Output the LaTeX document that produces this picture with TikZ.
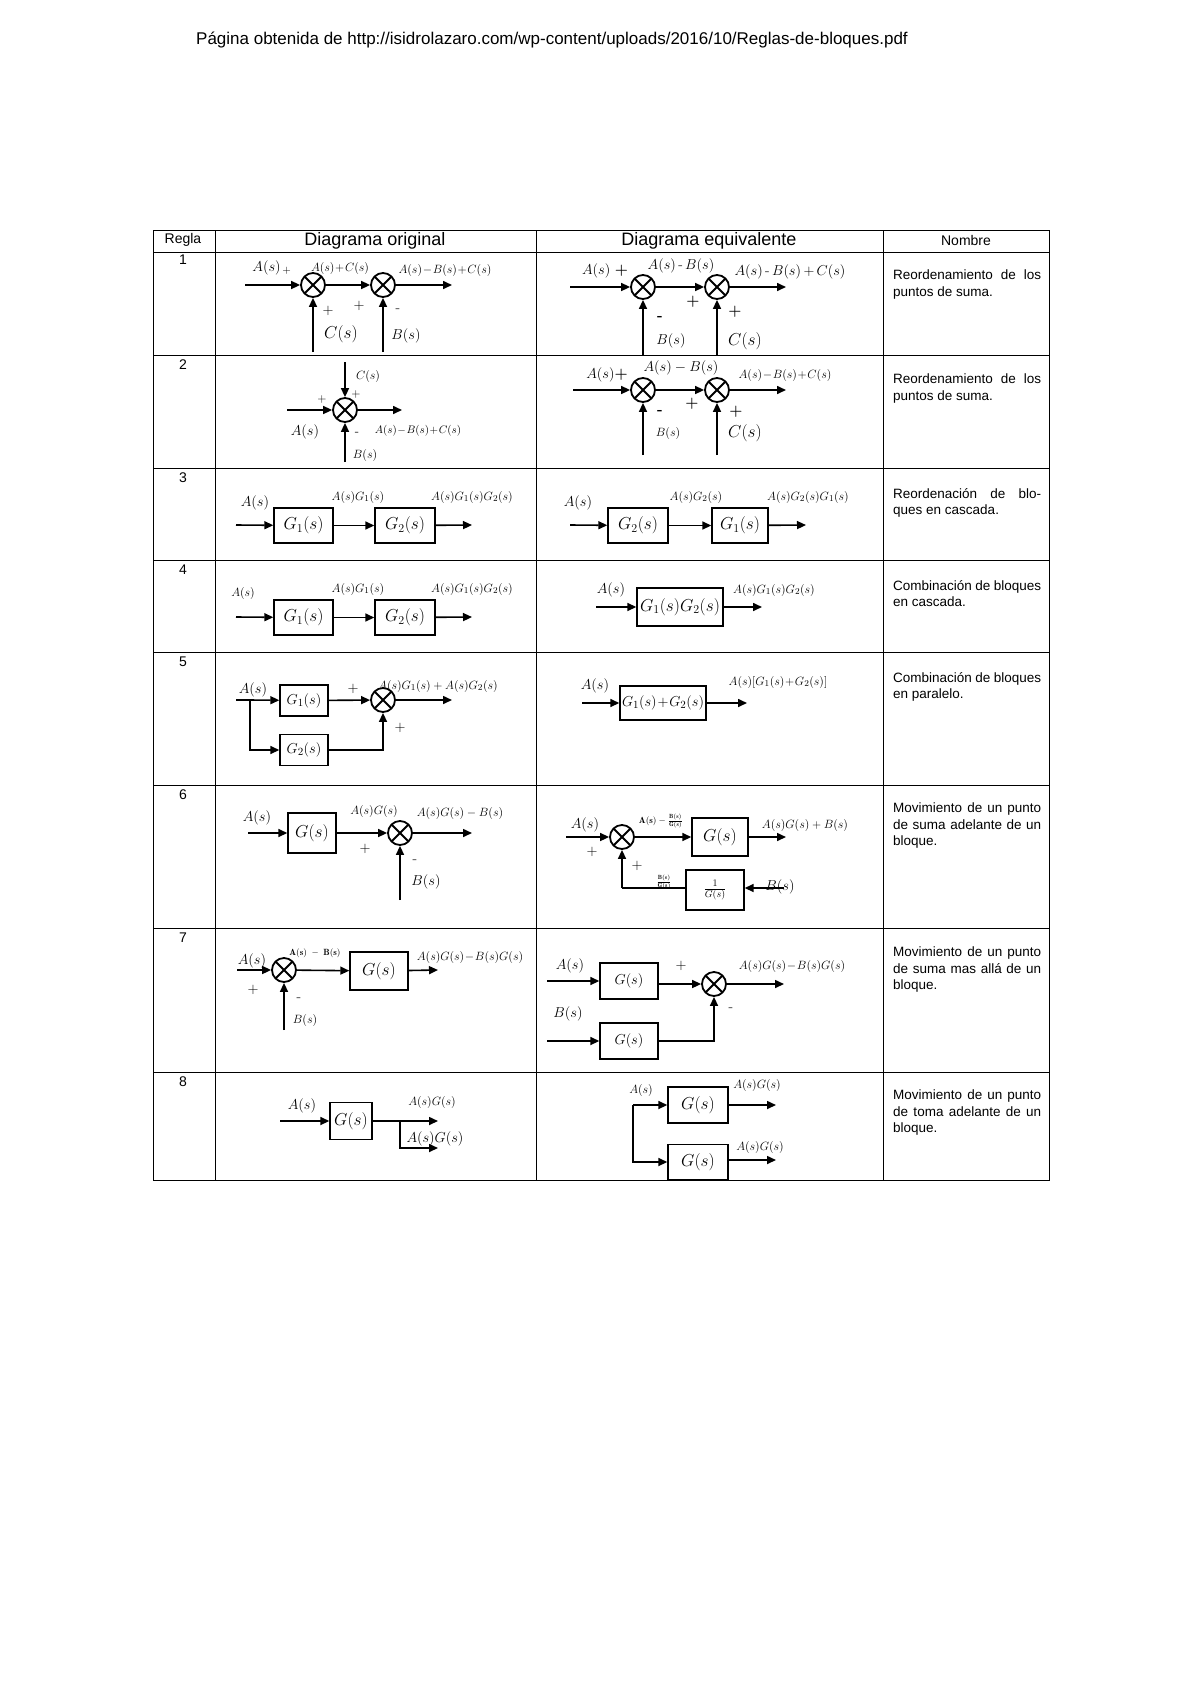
\documentclass[tikz,border=0pt]{standalone}
\usepackage{fontspec}
\setsansfont{Liberation Sans}
\usetikzlibrary{arrows.meta}
\begin{document}
\begin{tikzpicture}[x=1pt,y=-1pt,
  sig/.style={line width=1.6pt,-{Triangle[length=9pt,width=8pt]}},
  ln/.style={line width=1.6pt},
  sum/.style={circle,draw,line width=1.8pt,minimum size=24pt,inner sep=0pt,
    path picture={\draw[line width=1.8pt] (path picture bounding box.north west)--(path picture bounding box.south east) (path picture bounding box.north east)--(path picture bounding box.south west);}},
  blk/.style={draw,line width=1.4pt,rectangle,inner sep=0pt,font=\fontsize{18}{18}\selectfont},
  lb/.style={inner sep=0pt,font=\fontsize{15}{15}\selectfont},
  big/.style={inner sep=0pt,font=\fontsize{19}{19}\selectfont},
  sl/.style={inner sep=0pt,font=\fontsize{13}{13}\selectfont},
  ti/.style={inner sep=0pt,font=\fontsize{9}{9}\selectfont},
  nm/.style={anchor=north west,text width=148pt,align=justify,font=\sffamily\fontsize{13.5}{16.5}\selectfont,inner sep=0pt},
  tl/.style={line width=1pt}]
\useasboundingbox (0,0) rectangle (1200,1698);
\fill[white] (0,0) rectangle (1200,1698);
\node[font=\sffamily\fontsize{17}{20}\selectfont] (hdr) at (552,40) {Página obtenida de http://isidrolazaro.com/wp-content/uploads/2016/10/Reglas-de-bloques.pdf};
% table
\draw[tl] (153,230) rectangle (1049,1180);
\foreach \y in {252,355,468,560,652,785,928,1072} \draw[tl] (153,\y)--(1049,\y);
\foreach \x in {215,536,883} \draw[tl] (\x,230)--(\x,1180);
\node[font=\sffamily\fontsize{14}{14}\selectfont] (h1) at (183,240) {Regla};
\node[font=\sffamily\fontsize{18}{18}\selectfont] (h2) at (375,241) {Diagrama original};
\node[font=\sffamily\fontsize{18}{18}\selectfont] (h3) at (709,241) {Diagrama equivalente};
\node[font=\sffamily\fontsize{14}{14}\selectfont] (h4) at (966,240) {Nombre};
\foreach \n/\y in {1/260,2/365,3/478,4/570,5/662,6/795,7/938,8/1082} \node[font=\sffamily\fontsize{14}{14}\selectfont] at (183,\y) {\n};
\node[nm] (n1) at (893,270) {Reordenamiento de los puntos de suma.};
\node[nm] (n2) at (893,374) {Reordenamiento de los puntos de suma.};
\node[nm] (n3) at (893,488) {Reordenación de bloques en cascada.};
\node[nm] (n4) at (893,580) {Combinación de bloques en cascada.};
\node[nm] (n5) at (893,672) {Combinación de bloques en paralelo.};
\node[nm] (n6) at (893,803) {Movimiento de un punto de suma adelante de un bloque.};
\node[nm] (n7) at (893,947) {Movimiento de un punto de suma mas allá de un bloque.};
\node[nm] (n8) at (893,1090) {Movimiento de un punto de toma adelante de un bloque.};

% ---- Row 1 original
\node[sum] (a1) at (313,285) {};
\node[sum] (a2) at (383,285) {};
\coordinate (a0) at (245,285); \coordinate (a3) at (452,285);
\coordinate (ac) at (313,352); \coordinate (ab) at (383,352);
\draw[sig] (a0)--(a1); \draw[sig] (a1)--(a2); \draw[sig] (a2)--(a3);
\draw[sig] (ac)--(a1); \draw[sig] (ab)--(a2);
\node[lb] at (272,268) {$A(s)_{\,+}$};
\node[sl] at (340,268) {$A(s)\!+\!C(s)$};
\node[sl] at (445,270) {$A(s)\!-\!B(s)\!+\!C(s)$};
\node[lb] at (328,311) {$+$}; \node[lb] at (359,306) {$+$}; \node[lb] at (398,311) {-};
\node[big] at (341,334) {$C(s)$};
\node[lb] at (406,336) {$B(s)$};
% ---- Row 1 equivalent
\node[sum] (b1) at (643,287) {};
\node[sum] (b2) at (717,287) {};
\coordinate (b0) at (570,287); \coordinate (b3) at (786,287);
\coordinate (bb) at (643,355); \coordinate (bc) at (717,355);
\draw[sig] (b0)--(b1); \draw[sig] (b1)--(b2); \draw[sig] (b2)--(b3);
\draw[sig] (bb)--(b1); \draw[sig] (bc)--(b2);
\node[lb] at (605,271) {$A(s)$ \textbf{+}};
\node[lb] at (681,266) {$A(s)\,\mbox{-}\,B(s)$};
\node[lb] at (790,272) {$A(s)\,\mbox{-}\,B(s)\,\mbox{+}\,C(s)$};
\node[lb] at (660,318) {\textbf{-}}; \node[lb] at (693,302) {\textbf{+}}; \node[lb] at (735,312) {\textbf{+}};
\node[lb] at (671,341) {$B(s)$}; \node[big] at (745,341) {$C(s)$};
% ---- Row 2 original
\node[sum] (c1) at (345,410) {};
\coordinate (c0) at (287,410); \coordinate (c3) at (402,410);
\coordinate (cc) at (345,362); \coordinate (cb) at (345,462);
\draw[sig] (c0)--(c1); \draw[sig] (c1)--(c3); \draw[sig] (cc)--(c1); \draw[sig] (cb)--(c1);
\node[sl] at (368,376) {$C(s)$}; \node[sl] at (356,394) {$+$}; \node[sl] at (322,399) {$+$};
\node[lb] at (305,432) {$A(s)$}; \node[sl] at (357,434) {-};
\node[inner sep=0pt,font=\fontsize{11}{11}\selectfont] at (418,431) {$A(s)\!-\!B(s)\!+\!C(s)$};
\node[sl] at (365,455) {$B(s)$};
% ---- Row 2 equivalent
\node[sum] (d1) at (643,390) {};
\node[sum] (d2) at (717,390) {};
\coordinate (d0) at (573,390); \coordinate (d3) at (786,390);
\coordinate (db) at (643,455); \coordinate (dc) at (717,455);
\draw[sig] (d0)--(d1); \draw[sig] (d1)--(d2); \draw[sig] (d2)--(d3);
\draw[sig] (db)--(d1); \draw[sig] (dc)--(d2);
\node[lb] at (607,375) {$A(s)$\textbf{+}};
\node[lb] at (681,368) {$A(s)-B(s)$};
\node[sl] at (785,375) {$A(s)\!-\!B(s)\!+\!C(s)$};
\node[lb] at (660,412) {\textbf{-}}; \node[lb] at (692,404) {\textbf{+}}; \node[lb] at (736,412) {\textbf{+}};
\node[sl] at (668,433) {$B(s)$}; \node[big] at (745,433) {$C(s)$};
% ---- Row 3 original
\node[blk,minimum width=59pt,minimum height=35pt] (e1) at (303.5,525.5) {$G_1(s)$};
\node[blk,minimum width=60pt,minimum height=35pt] (e2) at (405,525.5) {$G_2(s)$};
\coordinate (e0) at (236,525); \coordinate (e3) at (472,525);
\draw[sig] (e0)--(e1); \draw[sig] (e1)--(e2); \draw[sig] (e2)--(e3);
\node[lb] at (255,503) {$A(s)$}; \node[sl] at (358,497) {$A(s)G_1(s)$}; \node[sl] at (472,497) {$A(s)G_1(s)G_2(s)$};
% ---- Row 3 equivalent
\node[blk,minimum width=60pt,minimum height=35pt] (f1) at (638,525.5) {$G_2(s)$};
\node[blk,minimum width=56pt,minimum height=35pt] (f2) at (740,525.5) {$G_1(s)$};
\coordinate (f0) at (570,525); \coordinate (f3) at (806,525);
\draw[sig] (f0)--(f1); \draw[sig] (f1)--(f2); \draw[sig] (f2)--(f3);
\node[lb] at (578,503) {$A(s)$}; \node[sl] at (696,497) {$A(s)G_2(s)$}; \node[sl] at (808,497) {$A(s)G_2(s)G_1(s)$};
% ---- Row 4 original
\node[blk,minimum width=59pt,minimum height=35pt] (g1) at (303.5,617.5) {$G_1(s)$};
\node[blk,minimum width=60pt,minimum height=35pt] (g2) at (405,617.5) {$G_2(s)$};
\coordinate (g0) at (236,617); \coordinate (g3) at (472,617);
\draw[sig] (g0)--(g1); \draw[sig] (g1)--(g2); \draw[sig] (g2)--(g3);
\node[sl] at (243,593) {$A(s)$}; \node[sl] at (358,589) {$A(s)G_1(s)$}; \node[sl] at (472,589) {$A(s)G_1(s)G_2(s)$};
% ---- Row 4 equivalent
\node[blk,minimum width=86pt,minimum height=38pt] (h1b) at (680,607) {$G_1(s)G_2(s)$};
\coordinate (h0) at (596,607); \coordinate (h3) at (762,607);
\draw[sig] (h0)--(h1b); \draw[sig] (h1b)--(h3);
\node[lb] at (611,590) {$A(s)$}; \node[sl] at (774,590) {$A(s)G_1(s)G_2(s)$};
% ---- Row 5 original
\node[blk,minimum width=48pt,minimum height=31pt,font=\fontsize{15}{15}\selectfont] (i1) at (304,700.5) {$G_1(s)$};
\node[blk,minimum width=48pt,minimum height=31pt,font=\fontsize{15}{15}\selectfont] (i2) at (304,750) {$G_2(s)$};
\node[sum] (i3) at (383,700) {};
\coordinate (i0) at (236,700); \coordinate (ib) at (250,700); \coordinate (i4) at (452,700);
\draw[ln] (i0)--(ib); \draw[sig] (ib)--(i1); \draw[sig] (ib)|-(i2);
\draw[sig] (i1)--(i3); \draw[sig] (i2)-|(i3); \draw[sig] (i3)--(i4);
\node[lb] at (253,690) {$A(s)$}; \node[lb] at (353,689) {$+$};
\node[sl] at (438,686) {$A(s)G_1(s)+A(s)G_2(s)$}; \node[lb] at (400,728) {$+$};
% ---- Row 5 equivalent
\node[blk,minimum width=86pt,minimum height=34pt,font=\fontsize{15}{15}\selectfont] (j1) at (663,703) {$G_1(s)\!+\!G_2(s)$};
\coordinate (j0) at (582,703); \coordinate (j3) at (747,703);
\draw[sig] (j0)--(j1); \draw[sig] (j1)--(j3);
\node[lb] at (595,686) {$A(s)$}; \node[sl] at (778,682) {$A(s)\big[G_1(s)\!+\!G_2(s)\big]$};
% ---- Row 6 original
\node[blk,minimum width=48pt,minimum height=40pt] (k1) at (312,833) {$G(s)$};
\node[sum] (k2) at (400,833) {};
\coordinate (k0) at (248,833); \coordinate (k3) at (472,833); \coordinate (kb) at (400,900);
\draw[sig] (k0)--(k1); \draw[sig] (k1)--(k2); \draw[sig] (k2)--(k3); \draw[sig] (kb)--(k2);
\node[lb] at (257,818) {$A(s)$}; \node[sl] at (374,811) {$A(s)G(s)$}; \node[sl] at (460,813) {$A(s)G(s)-B(s)$};
\node[lb] at (365,849) {$+$}; \node[lb] at (415,862) {-}; \node[lb] at (426,882) {$B(s)$};
% ---- Row 6 equivalent
\node[sum] (l1) at (622,837) {};
\node[blk,minimum width=56pt,minimum height=38pt,font=\fontsize{16}{16}\selectfont] (l2) at (720,837) {$G(s)$};
\node[blk,minimum width=58pt,minimum height=40pt,font=\fontsize{14}{14}\selectfont] (l3) at (715,890) {$\frac{1}{G(s)}$};
\coordinate (l0) at (566,837); \coordinate (l4) at (786,837); \coordinate (lb0) at (784,888); \coordinate (lc) at (622,888);
\draw[sig] (l0)--(l1); \draw[sig] (l1)--(l2); \draw[sig] (l2)--(l4);
\draw[sig] (lb0)--(l3.east|-lb0); \draw[ln] (l3.west|-lc)--(lc); \draw[sig] (lc)--(l1);
\node[lb] at (585,825) {$A(s)$}; \node[ti] at (661,821) {$\mathbf{A(s)-\frac{B(s)}{G(s)}}$};
\node[sl] at (805,825) {$A(s)G(s)+B(s)$};
\node[lb] at (592,852) {$+$}; \node[lb] at (637,866) {$+$};
\node[ti] at (664,882) {$\mathbf{\frac{B(s)}{G(s)}}$};
\node[lb] at (780,887) {$B(s)$};
% ---- Row 7 original
\node[sum] (m1) at (284,970) {};
\node[blk,minimum width=58pt,minimum height=38pt] (m2) at (379,971) {$G(s)$};
\coordinate (m0) at (237,970); \coordinate (m3) at (438,970); \coordinate (mb) at (284,1030);
\draw[sig] (m0)--(m1); \draw[sig] (m1)--(m2); \draw[sig] (m2)--(m3); \draw[sig] (mb)--(m1);
\node[lb] at (252,961) {$A(s)$}; \node[ti] at (315,953) {$\mathbf{A(s)\;-\;B(s)}$};
\node[sl] at (470,957) {$A(s)G(s)\!-\!B(s)G(s)$};
\node[lb] at (253,990) {$+$}; \node[lb] at (299,1000) {-}; \node[sl] at (305,1020) {$B(s)$};
% ---- Row 7 equivalent
\node[blk,minimum width=58pt,minimum height=36pt,font=\fontsize{15}{15}\selectfont] (o1) at (629,981) {$G(s)$};
\node[blk,minimum width=58pt,minimum height=36pt,font=\fontsize{15}{15}\selectfont] (o2) at (629,1041) {$G(s)$};
\node[sum] (o3) at (714,984) {};
\coordinate (o0) at (547,981); \coordinate (ob) at (547,1041); \coordinate (o4) at (784,984);
\draw[sig] (o0)--(o1); \draw[sig] (ob)--(o2); \draw[sig] (o1.east|-o3)--(o3); \draw[sig] (o2)-|(o3); \draw[sig] (o3)--(o4);
\node[lb] at (570,966) {$A(s)$}; \node[lb] at (681,966) {$+$};
\node[sl] at (792,966) {$A(s)G(s)\!-\!B(s)G(s)$};
\node[lb] at (568,1014) {$B(s)$}; \node[lb] at (731,1010) {-};
% ---- Row 8 original
\node[blk,minimum width=42pt,minimum height=37pt,font=\fontsize{16}{16}\selectfont] (p1) at (351,1121) {$G(s)$};
\coordinate (p0) at (280,1121); \coordinate (p3) at (438,1121); \coordinate (pt) at (400,1121); \coordinate (p4) at (438,1148);
\draw[sig] (p0)--(p1); \draw[sig] (p1)--(p3); \draw[sig] (pt)|-(p4);
\node[lb] at (302,1106) {$A(s)$}; \node[sl] at (432,1102) {$A(s)G(s)$}; \node[lb] at (435,1139) {$A(s)G(s)$};
% ---- Row 8 equivalent
\node[blk,minimum width=60pt,minimum height=36pt] (q1) at (698,1105) {$G(s)$};
\node[blk,minimum width=60pt,minimum height=35pt] (q2) at (698,1162) {$G(s)$};
\coordinate (q0) at (633,1105); \coordinate (q3) at (776,1105); \coordinate (q4) at (776,1160);
\draw[sig] (q0)--(q1); \draw[sig] (q0)|-(q2); \draw[sig] (q1)--(q3); \draw[sig] (q2.east|-q4)--(q4);
\node[sl] at (641,1090) {$A(s)$}; \node[sl] at (757,1085) {$A(s)G(s)$}; \node[sl] at (760,1147) {$A(s)G(s)$};
\end{tikzpicture}
\end{document}
